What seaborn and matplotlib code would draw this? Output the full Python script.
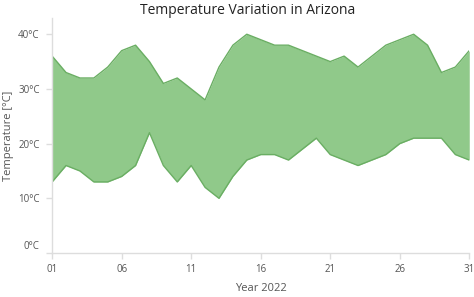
import numpy as np
import pandas as pd
import matplotlib.pyplot as plt
import matplotlib.transforms as mtransforms
import seaborn as sns

# Daily temperature range in Arizona, January 2022
days = list(range(1, 32))
high_temp = [36, 33, 32, 32, 34, 37, 38, 35, 31, 32, 30, 28, 34, 38, 40, 39,
             38, 38, 37, 36, 35, 36, 34, 36, 38, 39, 40, 38, 33, 34, 37]
low_temp = [13, 16, 15, 13, 13, 14, 16, 22, 16, 13, 16, 12, 10, 14, 17, 18,
            18, 17, 19, 21, 18, 17, 16, 17, 18, 20, 21, 21, 21, 18, 17]
x_ticks = [1, 6, 11, 16, 21, 26, 31]
x_tick_labels = ["01", "06", "11", "16", "21", "26", "31"]
y_ticks = [0, 10, 20, 30, 40]

df = pd.DataFrame({"day": days, "high": high_temp, "low": low_temp})

sns.set_theme(style="white")
plt.rcParams["font.family"] = ["Open Sans", "DejaVu Sans"]

fig, ax = plt.subplots(figsize=(4.74, 2.97), dpi=100)
fig.subplots_adjust(left=0.11, right=0.99, top=0.94, bottom=0.148)

fill_col = "#90c98a"
edge_col = "#6aae63"
ax.fill_between(df["day"], df["low"], df["high"], color=fill_col, lw=0)
sns.lineplot(data=df, x="day", y="high", color=edge_col, lw=1, ax=ax)
sns.lineplot(data=df, x="day", y="low", color=edge_col, lw=1, ax=ax)

ax.set_xlim(1, 31)
ax.set_ylim(0, 43)
ax.set_xticks(x_ticks)
ax.set_xticklabels(x_tick_labels)
ax.set_yticks(y_ticks)
ax.set_yticklabels([f"{v}°C" for v in y_ticks])

grey = "#dddddd"
for side in ["top", "right"]:
    ax.spines[side].set_visible(False)
for side in ["left", "bottom"]:
    ax.spines[side].set_color(grey)
    ax.spines[side].set_linewidth(1)

ax.tick_params(axis="both", colors=grey, labelcolor="#555555", labelsize=7,
               length=4, width=1, left=True, bottom=True)
ax.tick_params(axis="x", pad=4)
ax.tick_params(axis="y", pad=5)

# nudge the 0°C label up like the reference
zero_lbl = ax.get_yticklabels()[0]
zero_lbl.set_transform(zero_lbl.get_transform() +
                       mtransforms.ScaledTranslation(0, 8 / 100, fig.dpi_scale_trans))

ax.set_xlabel("Year 2022", fontsize=8, color="#555555", labelpad=6)
ax.set_ylabel("Temperature [°C]", fontsize=8, color="#555555", labelpad=3)
fig.text(248 / 474, 1 - 10 / 297, "Temperature Variation in Arizona", fontsize=10,
         color="#222222", ha="center", va="center")

fig.savefig("out.png", dpi=100)
